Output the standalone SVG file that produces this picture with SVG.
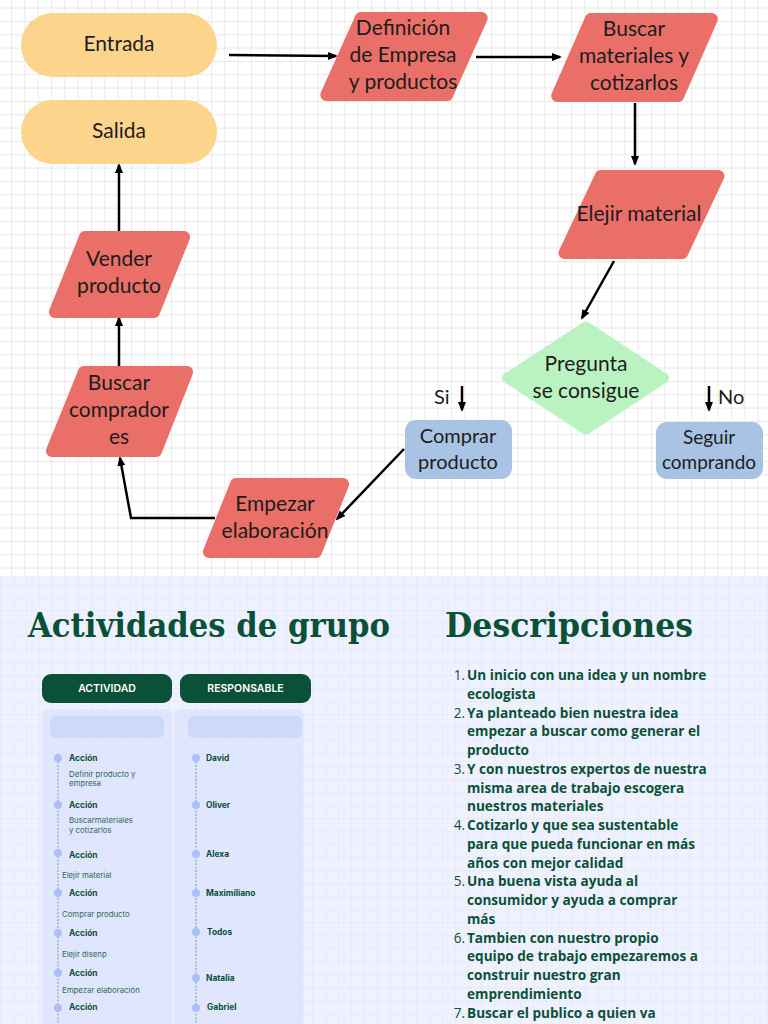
<svg xmlns="http://www.w3.org/2000/svg" width="768" height="1024" viewBox="0 0 768 1024">
<defs>
<pattern id="gridTop" x="11" y="7.6" width="13.333" height="13.333" patternUnits="userSpaceOnUse">
<path d="M0 0V13.333M0 0H13.333" stroke="#e0e0e0" stroke-width="1.2" fill="none"/>
</pattern>
<pattern id="gridBot" x="0.3" y="12.3" width="13" height="13" patternUnits="userSpaceOnUse">
<path d="M0 0V13M0 0H13" stroke="#d9e1fb" stroke-width="1" fill="none"/>
</pattern>
<marker id="arr" markerWidth="10" markerHeight="10" refX="8" refY="5" orient="auto" markerUnits="userSpaceOnUse">
<path d="M0,1 L10,5 L0,9 z" fill="#000"/>
</marker>
<style>
.flow{font-family:Lato,"Open Sans",sans-serif;font-size:21px;fill:#1d1d1d;text-anchor:middle}
.term{fill:#fdd48b}
.proc{fill:#e96f68;stroke:#e96f68;stroke-width:12;stroke-linejoin:round}
.dec{fill:#baf3c1;stroke:#baf3c1;stroke-width:10;stroke-linejoin:round}
.box{fill:#a9c3e4}
.conn{stroke:#000;stroke-width:2.5;fill:none;marker-end:url(#arr)}
.title{font-family:"DejaVu Serif","Liberation Serif",serif;font-weight:700;font-size:34px;fill:#0b5137}
.hdr{font-family:Inter,"Noto Sans",sans-serif;font-weight:600;font-size:10.5px;fill:#fff;text-anchor:middle}
.act{font-family:Inter,Lato,sans-serif;font-weight:700;font-size:8.4px;fill:#0b5137}
.desc{font-family:Inter,Lato,sans-serif;font-size:7.8px;fill:#2f6b57}
.dot{fill:#a9c0fa}
.tl{stroke:#5e8a7c;stroke-width:0.8;stroke-dasharray:2 1.5}
.li{font-family:"Open Sans","Noto Sans",sans-serif;font-weight:700;font-size:13.6px;fill:#0b5137}
.num{font-family:"Open Sans","Noto Sans",sans-serif;font-weight:400;font-size:13.6px;fill:#0b5137;text-anchor:end}
</style>
</defs>
<rect x="0" y="0" width="768" height="576" fill="#ffffff"/>
<rect x="0" y="0" width="768" height="576" fill="url(#gridTop)"/>
<rect x="0" y="576" width="768" height="448" fill="#eff2fe"/>
<rect x="0" y="576" width="768" height="448" fill="url(#gridBot)"/>

<g id="connectors">
<line class="conn" x1="229" y1="55" x2="336" y2="56"/>
<line class="conn" x1="476" y1="57" x2="560" y2="57"/>
<line class="conn" x1="635" y1="103" x2="635" y2="164"/>
<line class="conn" x1="614" y1="261" x2="582" y2="318"/>
<line class="conn" x1="462" y1="386" x2="462" y2="410"/>
<line class="conn" x1="709" y1="386" x2="709" y2="410"/>
<line class="conn" x1="404" y1="449" x2="337" y2="519"/>
<polyline class="conn" points="215,518 131,518 120,458"/>
<line class="conn" x1="119" y1="366" x2="119" y2="318"/>
<line class="conn" x1="119" y1="231" x2="119" y2="165"/>
</g>

<g id="entrada"><rect class="term" x="21" y="13" width="196" height="64" rx="32"/><text class="flow" x="119" y="51">Entrada</text></g>
<g id="salida"><rect class="term" x="21" y="100" width="196" height="64" rx="32"/><text class="flow" x="119" y="138">Salida</text></g>
<g id="definicion"><polygon class="proc" points="360.9,18 481.7,18 447.1,95 326.3,95"/><text class="flow" x="403" y="35">Definición</text><text class="flow" x="403" y="62">de Empresa</text><text class="flow" x="403" y="89">y productos</text></g>
<g id="buscar-materiales"><polygon class="proc" points="590.9,19 711.8,19 678.1,96 557.2,96"/><text class="flow" x="634" y="36">Buscar</text><text class="flow" x="634" y="63">materiales y</text><text class="flow" x="634" y="90">cotizarlos</text></g>
<g id="elejir-material"><polygon class="proc" points="600.8,176 718.5,176 682.2,253 564.5,253"/><text class="flow" x="639" y="221">Elejir material</text></g>
<g id="pregunta"><polygon class="dec" points="507,378 586,326.5 664,378 586,429.5"/><text class="flow" x="586" y="371">Pregunta</text><text class="flow" x="586" y="398">se consigue</text></g>
<g id="label-si"><text class="flow" x="434" y="404" style="text-anchor:start;font-size:20px">Si</text></g>
<g id="label-no"><text class="flow" x="718" y="404" style="text-anchor:start;font-size:20px">No</text></g>
<g id="comprar-producto"><rect class="box" x="405" y="420" width="107" height="59" rx="11"/><text class="flow" x="458" y="443" style="font-size:20px">Comprar</text><text class="flow" x="458" y="469" style="font-size:20px">producto</text></g>
<g id="seguir-comprando"><rect class="box" x="656" y="422" width="107" height="57" rx="11"/><text class="flow" x="709" y="444" style="font-size:19px">Seguir</text><text class="flow" x="709" y="469" style="font-size:19px">comprando</text></g>
<g id="empezar-elaboracion"><polygon class="proc" points="236.1,484 343.1,484 315.9,552 208.9,552"/><text class="flow" x="275" y="511">Empezar</text><text class="flow" x="275" y="538">elaboración</text></g>
<g id="buscar-compradores"><polygon class="proc" points="84,372 187.1,372 156,451 51.9,451"/><text class="flow" x="119" y="390">Buscar</text><text class="flow" x="119" y="417">comprador</text><text class="flow" x="119" y="444">es</text></g>
<g id="vender-producto"><polygon class="proc" points="85.1,237 184.1,237 153.9,312 54.9,312"/><text class="flow" x="119" y="266">Vender</text><text class="flow" x="119" y="293">producto</text></g>

<g id="actividades">
<text class="title" x="28" y="637" textLength="362" lengthAdjust="spacingAndGlyphs">Actividades de grupo</text>
<rect x="42" y="674" width="130" height="29" rx="9" fill="#0b5137"/>
<text class="hdr" x="107" y="692">ACTIVIDAD</text>
<rect x="180" y="674" width="131" height="29" rx="9" fill="#0b5137"/>
<text class="hdr" x="245.5" y="692">RESPONSABLE</text>
<rect x="42" y="709" width="130" height="320" rx="6" fill="#dde4fd" opacity="0.85"/>
<rect x="173.5" y="709" width="130" height="320" rx="6" fill="#dde4fd" opacity="0.85"/>
<rect x="50" y="716" width="114" height="22" rx="6" fill="#ccd9fb"/>
<rect x="188" y="716" width="114" height="22" rx="6" fill="#ccd9fb"/>
<line class="tl" x1="58" y1="758" x2="58" y2="1024"/>
<line class="tl" x1="196" y1="758" x2="196" y2="1024"/>
<circle class="dot" cx="58" cy="758" r="4"/><text class="act" x="69" y="761">Acción</text>
<text class="desc" x="69" y="777">Definir producto y</text><text class="desc" x="69" y="786">empresa</text>
<circle class="dot" cx="58" cy="805" r="4"/><text class="act" x="69" y="808">Acción</text>
<text class="desc" x="69" y="823">Buscarmateriales</text><text class="desc" x="69" y="833">y cotizarlos</text>
<circle class="dot" cx="58" cy="853" r="4"/><text class="act" x="69" y="858">Acción</text>
<text class="desc" x="62" y="878">Elejir material</text>
<circle class="dot" cx="58" cy="893" r="4"/><text class="act" x="69" y="896">Acción</text>
<text class="desc" x="62" y="917">Comprar producto</text>
<circle class="dot" cx="58" cy="933" r="4"/><text class="act" x="69" y="936">Acción</text>
<text class="desc" x="62" y="957">Elejir disenp</text>
<circle class="dot" cx="58" cy="973" r="4"/><text class="act" x="69" y="976">Acción</text>
<text class="desc" x="62" y="993">Empezar elaboración</text>
<circle class="dot" cx="58" cy="1008" r="4"/><text class="act" x="69" y="1010">Acción</text>
<circle class="dot" cx="196" cy="758" r="4"/><text class="act" x="206" y="761">David</text>
<circle class="dot" cx="196" cy="805" r="4"/><text class="act" x="206" y="808">Oliver</text>
<circle class="dot" cx="196" cy="854" r="4"/><text class="act" x="206" y="857">Alexa</text>
<circle class="dot" cx="196" cy="893" r="4"/><text class="act" x="206" y="896">Maximiliano</text>
<circle class="dot" cx="196" cy="932" r="4"/><text class="act" x="207" y="935">Todos</text>
<circle class="dot" cx="196" cy="978" r="4"/><text class="act" x="206" y="981">Natalia</text>
<circle class="dot" cx="196" cy="1008" r="4"/><text class="act" x="207" y="1010">Gabriel</text>
</g>

<g id="descripciones">
<text class="title" x="445" y="637" textLength="248" lengthAdjust="spacingAndGlyphs">Descripciones</text>
<text class="num" x="465" y="680">1.</text><text class="li" x="467" y="680">Un inicio con una idea y un nombre</text>
<text class="li" x="467" y="698.75">ecologista</text>
<text class="num" x="465" y="717.5">2.</text><text class="li" x="467" y="717.5">Ya planteado bien nuestra idea</text>
<text class="li" x="467" y="736.25">empezar a buscar como generar el</text>
<text class="li" x="467" y="755">producto</text>
<text class="num" x="465" y="773.75">3.</text><text class="li" x="467" y="773.75">Y con nuestros expertos de nuestra</text>
<text class="li" x="467" y="792.5">misma area de trabajo escogera</text>
<text class="li" x="467" y="811.25">nuestros materiales</text>
<text class="num" x="465" y="830">4.</text><text class="li" x="467" y="830">Cotizarlo y que sea sustentable</text>
<text class="li" x="467" y="848.75">para que pueda funcionar en más</text>
<text class="li" x="467" y="867.5">años con mejor calidad</text>
<text class="num" x="465" y="886.25">5.</text><text class="li" x="467" y="886.25">Una buena vista ayuda al</text>
<text class="li" x="467" y="905">consumidor y ayuda a comprar</text>
<text class="li" x="467" y="923.75">más</text>
<text class="num" x="465" y="942.5">6.</text><text class="li" x="467" y="942.5">Tambien con nuestro propio</text>
<text class="li" x="467" y="961.25">equipo de trabajo empezaremos a</text>
<text class="li" x="467" y="980">construir nuestro gran</text>
<text class="li" x="467" y="998.75">emprendimiento</text>
<text class="num" x="465" y="1017.5">7.</text><text class="li" x="467" y="1017.5">Buscar el publico a quien va</text>
</g>
</svg>
